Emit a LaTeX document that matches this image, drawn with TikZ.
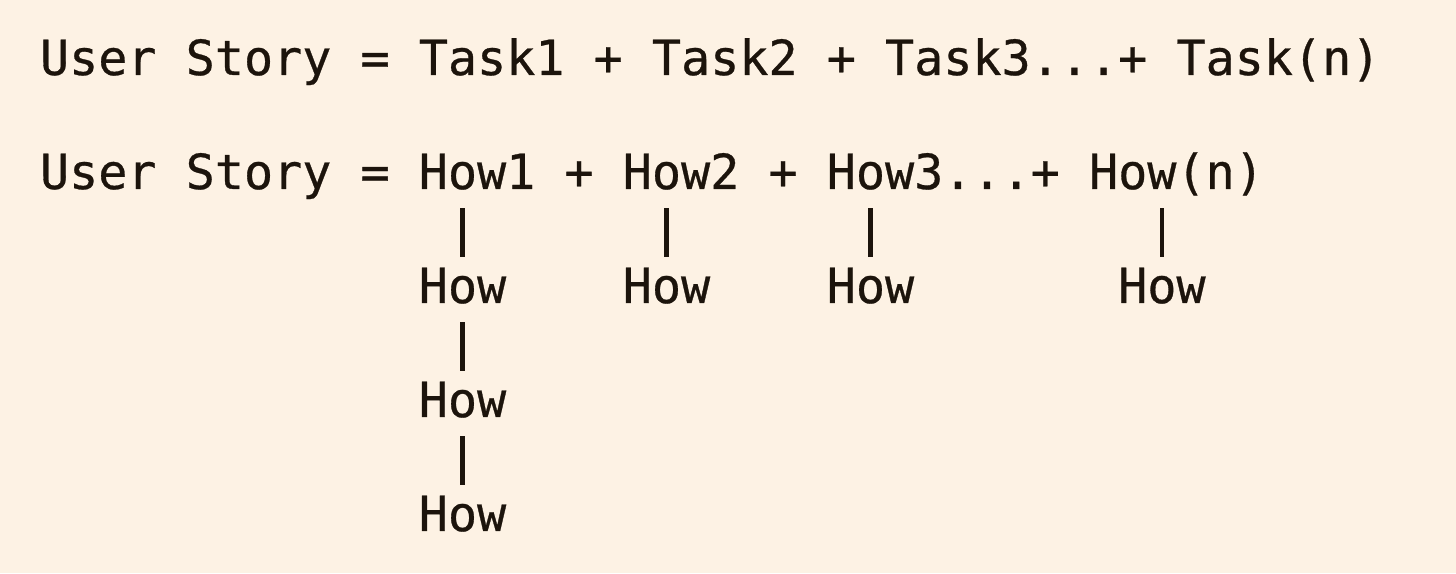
\documentclass[tikz,border=0pt]{standalone}
\usepackage{fontspec}
\newfontfamily\monof[FakeBold=0.6]{DejaVu Sans Mono}
\usetikzlibrary{calc}
\definecolor{bgc}{RGB}{253,242,228}
\definecolor{ink}{RGB}{28,20,12}
\tikzset{
  tok/.style={anchor=base west,inner sep=0pt,outer sep=0pt,text=ink,font=\monof\fontsize{48.4}{58}\selectfont},
  conn/.style={draw=ink,line width=4.4pt,line cap=butt}
}
\begin{document}
\begin{tikzpicture}[x=1pt,y=1pt]
\def\pw{29.14}
\fill[bgc] (0,0) rectangle (1456,573);
\useasboundingbox (0,0) rectangle (1456,573);
% row 1
\node[tok] (r1a) at (40+0*\pw,498) {User};
\node[tok] (r1b) at (40+5*\pw,498) {Story};
\node[tok] (r1c) at (40+11*\pw,498) {=};
\node[tok] (t1) at (40+13*\pw,498) {Task1};
\node[tok] (p1) at (40+19*\pw,498) {+};
\node[tok] (t2) at (40+21*\pw,498) {Task2};
\node[tok] (p2) at (40+27*\pw,498) {+};
\node[tok] (t3) at (40+29*\pw,498) {Task3...+};
\node[tok] (tn) at (40+39*\pw,498) {Task(n)};
% row 2
\node[tok] (r2a) at (40+0*\pw,384) {User};
\node[tok] (r2b) at (40+5*\pw,384) {Story};
\node[tok] (r2c) at (40+11*\pw,384) {=};
\node[tok] (h1) at (40+13*\pw,384) {How1};
\node[tok] (q1) at (40+18*\pw,384) {+};
\node[tok] (h2) at (40+20*\pw,384) {How2};
\node[tok] (q2) at (40+25*\pw,384) {+};
\node[tok] (h3) at (40+27*\pw,384) {How3...+};
\node[tok] (hn) at (40+36*\pw,384) {How(n)};
% sub hows
\node[tok] (s1a) at (40+13*\pw,270) {How};
\node[tok] (s2a) at (40+20*\pw,270) {How};
\node[tok] (s3a) at (40+27*\pw,270) {How};
\node[tok] (sna) at (40+37*\pw,270) {How};
\node[tok] (s1b) at (40+13*\pw,156) {How};
\node[tok] (s1c) at (40+13*\pw,42) {How};
% connectors
\foreach \up/\lo in {h1/s1a,h2/s2a,h3/s3a,hn/sna,s1a/s1b,s1b/s1c}{
  \draw[conn] let \p1=(\lo.base west), \p2=(\up.base) in
    (\x1+1.5*\pw pt,\y1+46pt) -- (\x1+1.5*\pw pt,\y2-19pt);
}
\end{tikzpicture}
\end{document}
